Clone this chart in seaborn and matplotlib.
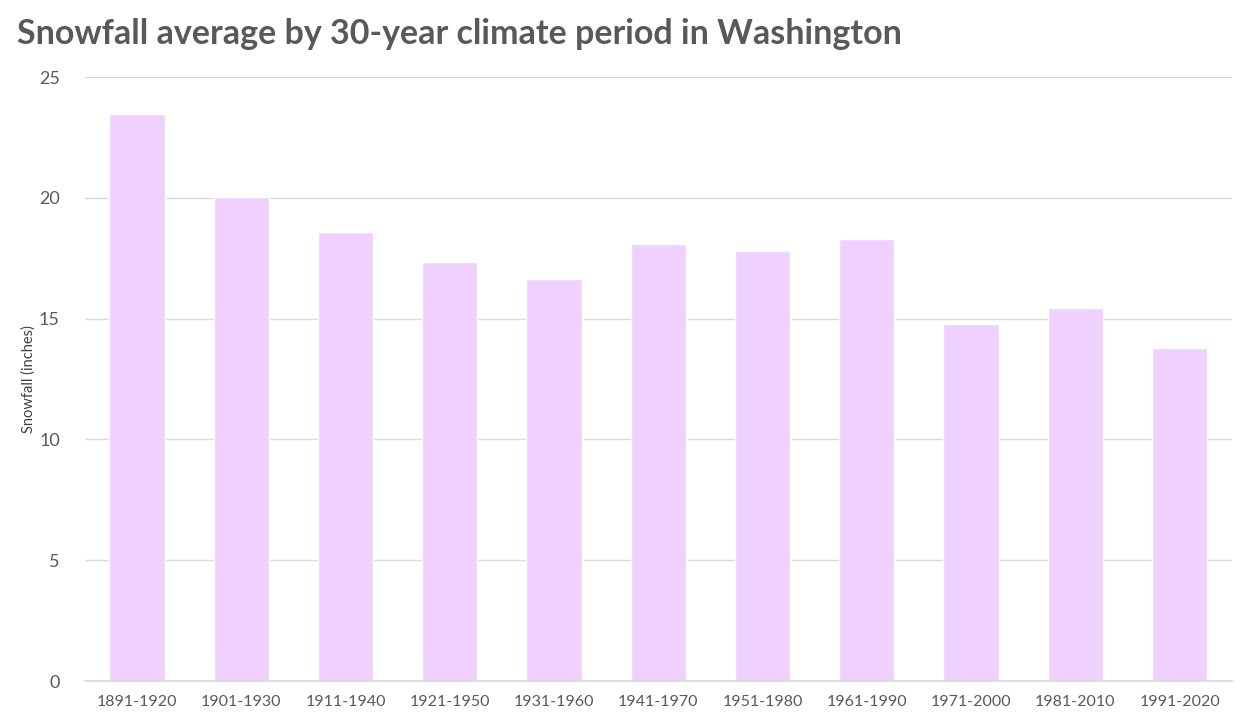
import matplotlib
matplotlib.use("Agg")
import matplotlib.pyplot as plt
import seaborn as sns
import pandas as pd

periods = ["1891-1920", "1901-1930", "1911-1940", "1921-1950", "1931-1960", "1941-1970",
           "1951-1980", "1961-1990", "1971-2000", "1981-2010", "1991-2020"]
snowfall = [23.45, 20.05, 18.6, 17.35, 16.65, 18.1, 17.8, 18.3, 14.8, 15.45, 13.8]
yticks = [0, 5, 10, 15, 20, 25]

sns.set_theme(style="white")
plt.rcParams['font.family'] = ['Lato', 'DejaVu Sans']

df = pd.DataFrame({"period": periods, "snow": snowfall})
fig = plt.figure(figsize=(12.48, 7.2), dpi=100)
ax = fig.add_axes([0.068, 0.054, 0.919, 0.839])
sns.barplot(data=df, x="period", y="snow", color="#F0D0FF", saturation=1, width=0.53, ax=ax, zorder=2)
ax.set_ylim(0, 25)
ax.set_xlim(-0.5, len(periods) - 0.5)
ax.set_yticks(yticks)
ax.yaxis.grid(True, color="#D9D9D9", linewidth=1, zorder=0)
ax.set_axisbelow(True)
for s in ["top", "right", "left"]:
    ax.spines[s].set_visible(False)
ax.spines["bottom"].set_color("#D9D9D9")
ax.tick_params(axis="both", length=0, colors="#595959")
ax.tick_params(axis="y", labelsize=13, pad=18)
ax.tick_params(axis="x", labelsize=11.5, pad=10)
ax.set_xlabel("")
ax.set_ylabel("Snowfall (inches)", fontsize=10.5, color="#404040", labelpad=2)
fig.text(0.014, 0.953, "Snowfall average by 30-year climate period in Washington",
         fontsize=24.5, fontweight="bold", color="#595959", va="center", ha="left")
fig.savefig("out.png", dpi=100)
